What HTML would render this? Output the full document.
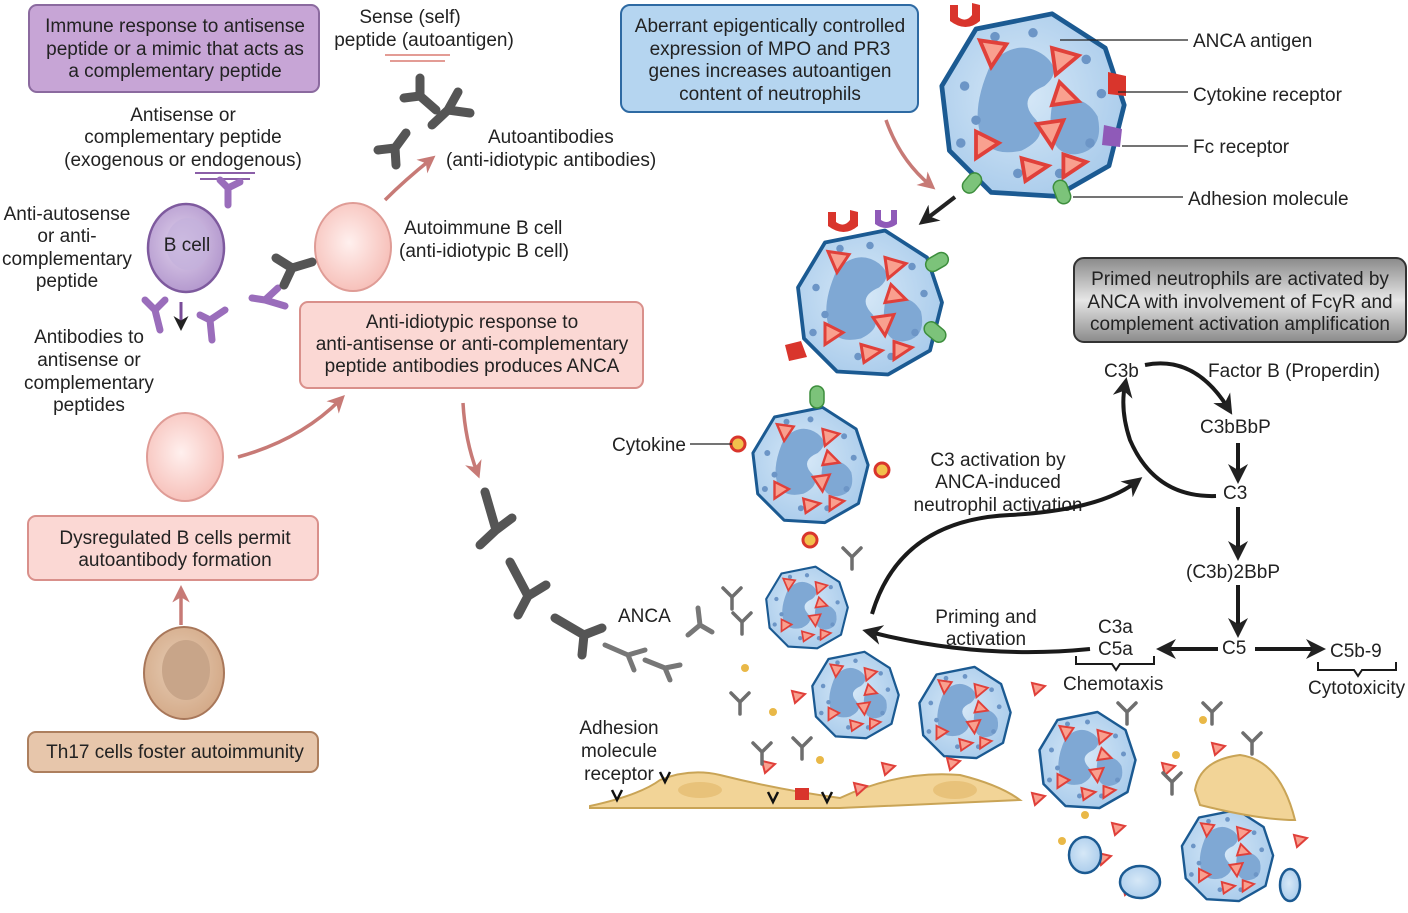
<!DOCTYPE html>
<html><head><meta charset="utf-8"><style>
html,body{margin:0;padding:0;background:#fff}
svg text{font-family:"Liberation Sans",sans-serif;font-size:19px;fill:#222}
</style></head><body>
<svg width="1408" height="908" viewBox="0 0 1408 908" xmlns="http://www.w3.org/2000/svg">
<defs>
<radialGradient id="ng" cx="0.45" cy="0.45" r="0.6"><stop offset="0" stop-color="#d6e8f7"/><stop offset="1" stop-color="#a9cbeb"/></radialGradient>
<linearGradient id="gg" x1="0" y1="0" x2="0" y2="1"><stop offset="0" stop-color="#8a8a8a"/><stop offset="0.5" stop-color="#e6e6e6"/><stop offset="1" stop-color="#8a8a8a"/></linearGradient>
<radialGradient id="pk" cx="0.45" cy="0.45" r="0.6"><stop offset="0" stop-color="#fff0ee"/><stop offset="1" stop-color="#f6bdb6"/></radialGradient>
<radialGradient id="pu" cx="0.45" cy="0.45" r="0.6"><stop offset="0" stop-color="#e0d2ec"/><stop offset="1" stop-color="#b195cc"/></radialGradient>
<radialGradient id="tn" cx="0.45" cy="0.45" r="0.6"><stop offset="0" stop-color="#e6cdb5"/><stop offset="1" stop-color="#d3a886"/></radialGradient>
<symbol id="neu" viewBox="-50 -50 100 100" overflow="visible">
<path d="M-30,-40 L10,-48 L38,-30 L48,0 L40,32 L12,48 L-22,46 L-44,24 L-48,-10 Z" fill="url(#ng)" stroke="#1b5a92" stroke-width="2.5" stroke-linejoin="round"/>
<path d="M-22,-22 q14,-14 28,-4 q10,8 0,16 q-14,6 -6,16 q10,10 -6,18 q-18,4 -22,-10 q-4,-14 6,-36 z" fill="#7fa8d4"/>
<path d="M10,0 q16,-8 24,6 q4,18 -12,20 q-16,0 -12,-26 z" fill="#7fa8d4"/>
<g fill="#6c95c6"><circle cx="-36" cy="-10" r="2.5"/><circle cx="-30" cy="8" r="2.5"/><circle cx="28" cy="-24" r="2.5"/><circle cx="36" cy="-6" r="2.5"/><circle cx="-8" cy="36" r="2.5"/><circle cx="14" cy="36" r="2.5"/><circle cx="-20" cy="-36" r="2.5"/><circle cx="0" cy="-38" r="2.5"/><circle cx="-38" cy="20" r="2.5"/><circle cx="30" cy="20" r="2.5"/></g>
<g fill="#f9a08f" stroke="#e0403a" stroke-width="2"><path d="M-28,-34 l14,2 l-8,12 z"/><path d="M10,-30 l14,4 l-12,10 z"/><path d="M-30,14 l12,6 l-12,8 z"/><path d="M2,10 l14,-2 l-6,14 z"/><path d="M14,-12 l10,10 l-14,2 z"/><path d="M-6,28 l14,4 l-12,8 z"/><path d="M28,30 l-12,8 l0,-12 z"/></g>
</symbol>
<symbol id="ab" viewBox="-12 -12 24 24" overflow="visible">
<path d="M0,12 L0,0 M0,0 L-9,-9 M0,0 L9,-9" stroke="#6e6e6e" stroke-width="3.5" fill="none" stroke-linecap="round"/>
</symbol>
<symbol id="tri" viewBox="-8 -8 16 16" overflow="visible"><path d="M-6,-5 L7,-2 L-3,7 Z" fill="#f9a08f" stroke="#e0403a" stroke-width="2"/></symbol>
<marker id="ar" viewBox="0 0 10 10" refX="6" refY="5" markerWidth="5" markerHeight="5" orient="auto"><path d="M0,0 L10,5 L0,10 L3,5 z" fill="#222"/></marker>
<marker id="arp" viewBox="0 0 10 10" refX="6" refY="5" markerWidth="5" markerHeight="5" orient="auto"><path d="M0,0 L10,5 L0,10 L3,5 z" fill="#c77a76"/></marker>
</defs>

<!-- boxes -->
<rect x="29" y="5" width="290" height="87" rx="8" fill="#c7a5d6" stroke="#8b6a9f" stroke-width="2"/>
<text text-anchor="middle" x="175" y="32">Immune response to antisense</text>
<text text-anchor="middle" x="175" y="55">peptide or a mimic that acts as</text>
<text text-anchor="middle" x="175" y="77">a complementary peptide</text>

<rect x="621" y="5" width="297" height="107" rx="9" fill="#b5d5f0" stroke="#2e6aa3" stroke-width="2"/>
<text text-anchor="middle" x="770" y="32">Aberrant epigentically controlled</text>
<text text-anchor="middle" x="770" y="55">expression of MPO and PR3</text>
<text text-anchor="middle" x="770" y="77">genes increases autoantigen</text>
<text text-anchor="middle" x="770" y="100">content of neutrophils</text>

<rect x="300" y="302" width="343" height="86" rx="8" fill="#fbd8d4" stroke="#d9908b" stroke-width="2"/>
<text text-anchor="middle" x="472" y="328">Anti-idiotypic response to</text>
<text text-anchor="middle" x="472" y="350">anti-antisense or anti-complementary</text>
<text text-anchor="middle" x="472" y="372">peptide antibodies produces ANCA</text>

<rect x="28" y="516" width="290" height="64" rx="8" fill="#fbd8d4" stroke="#d9908b" stroke-width="2"/>
<text text-anchor="middle" x="175" y="544">Dysregulated B cells permit</text>
<text text-anchor="middle" x="175" y="566">autoantibody formation</text>

<rect x="28" y="732" width="290" height="40" rx="8" fill="#e7c6ab" stroke="#ad7f5e" stroke-width="2"/>
<text text-anchor="middle" x="175" y="758">Th17 cells foster autoimmunity</text>

<rect x="1074" y="258" width="332" height="84" rx="10" fill="url(#gg)" stroke="#333" stroke-width="2"/>
<text text-anchor="middle" x="1240" y="285">Primed neutrophils are activated by</text>
<text text-anchor="middle" x="1240" y="308">ANCA with involvement of FcγR and</text>
<text text-anchor="middle" x="1240" y="330">complement activation amplification</text>

<!-- left text -->
<text text-anchor="middle" x="410" y="23">Sense (self)</text>
<text text-anchor="middle" x="424" y="46">peptide (autoantigen)</text>
<line x1="385" y1="55" x2="450" y2="55" stroke="#e39c95" stroke-width="2"/><line x1="390" y1="61" x2="445" y2="61" stroke="#e39c95" stroke-width="2"/>
<text text-anchor="middle" x="183" y="121">Antisense or</text>
<text text-anchor="middle" x="183" y="143">complementary peptide</text>
<text text-anchor="middle" x="183" y="166">(exogenous or endogenous)</text>
<line x1="195" y1="173" x2="255" y2="173" stroke="#8b5fa8" stroke-width="2"/><line x1="200" y1="179" x2="250" y2="179" stroke="#8b5fa8" stroke-width="2"/>
<text text-anchor="middle" x="67" y="220">Anti-autosense</text>
<text text-anchor="middle" x="67" y="242">or anti-</text>
<text text-anchor="middle" x="67" y="265">complementary</text>
<text text-anchor="middle" x="67" y="287">peptide</text>
<text text-anchor="middle" x="89" y="343">Antibodies to</text>
<text text-anchor="middle" x="89" y="366">antisense or</text>
<text text-anchor="middle" x="89" y="389">complementary</text>
<text text-anchor="middle" x="89" y="411">peptides</text>
<text x="488" y="143">Autoantibodies</text>
<text x="446" y="166">(anti-idiotypic antibodies)</text>
<text x="404" y="234">Autoimmune B cell</text>
<text x="399" y="257">(anti-idiotypic B cell)</text>

<!-- B cells -->
<ellipse cx="186" cy="248" rx="38" ry="44" fill="url(#pu)" stroke="#7e5a9e" stroke-width="2.5"/>
<ellipse cx="188" cy="244" rx="22" ry="26" fill="#c3b0dc" opacity="0.7"/>
<text text-anchor="middle" x="187" y="251">B cell</text>
<ellipse cx="353" cy="247" rx="38" ry="44" fill="url(#pk)" stroke="#df9c96" stroke-width="2"/>
<ellipse cx="185" cy="457" rx="38" ry="44" fill="url(#pk)" stroke="#df9c96" stroke-width="2"/>
<ellipse cx="184" cy="673" rx="40" ry="46" fill="url(#tn)" stroke="#a8775a" stroke-width="2"/>
<ellipse cx="186" cy="670" rx="24" ry="30" fill="#c8a589"/>

<!-- purple antibodies -->
<g stroke="#9a6dbb" stroke-width="7" stroke-linecap="round" fill="none">
<path d="M228,205 L228,188 M228,188 L220,180 M228,188 L240,182"/>
<path d="M155,310 L145,300 M155,310 L165,300 M155,310 L160,330"/>
<path d="M225,310 L210,320 M210,320 L200,315 M210,320 L212,340"/>
<path d="M265,300 L278,288 M265,300 L252,298 M265,300 L285,306"/>
</g>
<line x1="181" y1="302" x2="181" y2="325" stroke="#7a4c99" stroke-width="3" marker-end="url(#ar)"/>
<!-- gray antibodies left -->
<g stroke="#555" stroke-width="9" stroke-linecap="round" fill="none">
<path d="M432,125 L448,110 M448,110 L458,92 M448,110 L470,113"/>
<path d="M406,133 L395,148 M395,148 L378,150 M395,148 L396,165"/>
<path d="M436,110 L420,96 M420,96 L404,98 M420,96 L420,78"/>
<path d="M312,262 L292,268 M292,268 L276,258 M292,268 L284,285"/>
<path d="M485,492 L496,530 M496,530 L480,545 M496,530 L512,518"/>
<path d="M510,562 L528,596 M528,596 L518,615 M528,596 L546,585"/>
<path d="M555,618 L584,635 M584,635 L582,655 M584,635 L602,628"/>
</g>
<g stroke="#777" stroke-width="5" stroke-linecap="round" fill="none">
<path d="M605,645 L628,655 M628,655 L634,670 M628,655 L645,650"/>
<path d="M645,660 L665,668 M665,668 L670,680 M665,668 L680,665"/>
<path d="M688,635 L700,625 M700,625 L698,608 M700,625 L712,632"/>
</g>
<text x="618" y="622">ANCA</text>

<!-- pink arrows -->
<g stroke="#c77a76" stroke-width="3.5" fill="none" marker-end="url(#arp)">
<path d="M385,200 Q405,180 430,160"/>
<path d="M238,457 Q300,440 340,400"/>
<path d="M181,625 L181,592"/>
<path d="M463,403 Q465,440 477,472"/>
<path d="M886,120 Q900,160 930,185"/>
</g>
<path d="M955,197 L925,220" stroke="#222" stroke-width="4" marker-end="url(#ar)"/>

<!-- neutrophils -->
<use href="#neu" x="938" y="10" width="190" height="190"/>
<use href="#neu" x="795" y="225" width="150" height="155"/>
<use href="#neu" x="748" y="405" width="125" height="120"/>
<use href="#neu" x="763" y="565" width="88" height="85"/>
<use href="#neu" x="808" y="650" width="95" height="90"/>
<use href="#neu" x="915" y="665" width="100" height="95"/>
<use href="#neu" x="1025" y="710" width="125" height="100"/>
<use href="#neu" x="1155" y="808" width="145" height="95"/>
<!-- receptors on big neutrophils -->
<g fill="#d9352c"><path d="M950,5 l8,0 l0,12 q8,6 14,-2 l0,-12 l8,2 l0,16 q-14,12 -30,0z"/><path d="M1108,72 l18,4 l0,20 l-18,-2z"/><path d="M828,212 l8,0 l0,10 q8,6 14,-2 l0,-10 l8,2 l0,14 q-14,12 -30,0z"/><path d="M785,345 l16,-4 l6,16 l-18,4z"/></g>
<g fill="#8f5ab8"><path d="M1104,125 l18,4 l-2,18 l-18,-2z"/><path d="M875,210 l6,0 l0,10 q6,4 10,0 l0,-10 l6,0 l0,14 q-11,8 -22,0z"/></g>
<g fill="#7cc37a" stroke="#3d8e3d" stroke-width="1.5"><rect x="965" y="172" width="14" height="22" rx="7" transform="rotate(40 972 183)"/><rect x="1055" y="180" width="14" height="24" rx="7" transform="rotate(-20 1062 192)"/><rect x="930" y="250" width="14" height="24" rx="7" transform="rotate(60 937 262)"/><rect x="928" y="320" width="14" height="24" rx="7" transform="rotate(-50 935 332)"/><rect x="810" y="386" width="14" height="22" rx="7"/></g>
<circle cx="738" cy="444" r="7" fill="#f2c04c" stroke="#d9352c" stroke-width="3"/>
<circle cx="810" cy="540" r="7" fill="#f2c04c" stroke="#d9352c" stroke-width="3"/>
<circle cx="882" cy="470" r="7" fill="#f2c04c" stroke="#d9352c" stroke-width="3"/>

<!-- endothelium -->
<path d="M590,806 Q640,795 660,780 Q690,768 720,775 Q780,790 840,798 Q900,770 960,775 Q1000,785 1020,800 L840,808 L590,808 Z" fill="#f2d497" stroke="#c9a456" stroke-width="2"/>
<path d="M1195,790 Q1200,760 1240,755 Q1280,760 1295,820 Q1260,820 1200,805 Z" fill="#f2d497" stroke="#c9a456" stroke-width="2"/>
<ellipse cx="700" cy="790" rx="22" ry="8" fill="#e8c27a"/><ellipse cx="955" cy="790" rx="22" ry="9" fill="#e8c27a"/>
<g stroke="#111" stroke-width="2.5" fill="none"><path d="M612,790 l5,10 l5,-10"/><path d="M660,772 l5,10 l5,-10"/><path d="M768,792 l5,10 l5,-10"/><path d="M822,792 l5,10 l5,-10"/></g>
<rect x="795" y="788" width="14" height="12" fill="#d9352c"/>
<text text-anchor="middle" x="619" y="734">Adhesion</text>
<text text-anchor="middle" x="619" y="757">molecule</text>
<text text-anchor="middle" x="619" y="780">receptor</text>

<!-- scattered stuff -->
<g>
<use href="#tri" x="790" y="688" width="16" height="16"/><use href="#tri" x="852" y="780" width="16" height="16"/><use href="#tri" x="880" y="760" width="16" height="16"/><use href="#tri" x="1030" y="790" width="16" height="16"/><use href="#tri" x="1110" y="820" width="16" height="16"/><use href="#tri" x="1160" y="760" width="16" height="16"/><use href="#tri" x="1210" y="740" width="16" height="16"/><use href="#tri" x="1096" y="850" width="16" height="16"/><use href="#tri" x="1120" y="880" width="16" height="16"/><use href="#tri" x="1292" y="832" width="16" height="16"/><use href="#tri" x="1030" y="680" width="16" height="16"/><use href="#tri" x="760" y="758" width="16" height="16"/><use href="#tri" x="945" y="755" width="16" height="16"/>
</g>
<g fill="#e9b847"><circle cx="773" cy="712" r="4"/><circle cx="820" cy="760" r="4"/><circle cx="1085" cy="815" r="4"/><circle cx="1062" cy="841" r="4"/><circle cx="1203" cy="720" r="4"/><circle cx="1176" cy="755" r="4"/><circle cx="745" cy="668" r="4"/></g>
<use href="#ab" x="720" y="585" width="24" height="24"/><use href="#ab" x="730" y="610" width="24" height="24"/><use href="#ab" x="728" y="690" width="24" height="24"/><use href="#ab" x="750" y="740" width="24" height="24"/><use href="#ab" x="790" y="735" width="24" height="24"/><use href="#ab" x="840" y="545" width="24" height="24"/><use href="#ab" x="1115" y="700" width="24" height="24"/><use href="#ab" x="1200" y="700" width="24" height="24"/><use href="#ab" x="1240" y="730" width="24" height="24"/><use href="#ab" x="1160" y="770" width="24" height="24"/>
<g fill="url(#ng)" stroke="#1b5a92" stroke-width="2.5"><ellipse cx="1085" cy="855" rx="16" ry="18"/><ellipse cx="1140" cy="882" rx="20" ry="16"/><ellipse cx="1290" cy="885" rx="10" ry="16"/></g>

<!-- right labels -->
<g stroke="#222" stroke-width="1.2"><line x1="1060" y1="40" x2="1188" y2="40"/><line x1="1118" y1="92" x2="1188" y2="92"/><line x1="1122" y1="146" x2="1188" y2="146"/><line x1="1073" y1="197" x2="1183" y2="197"/><line x1="690" y1="444" x2="732" y2="444"/></g>
<text x="1193" y="47">ANCA antigen</text>
<text x="1193" y="101">Cytokine receptor</text>
<text x="1193" y="153">Fc receptor</text>
<text x="1188" y="205">Adhesion molecule</text>
<text x="612" y="451">Cytokine</text>

<text text-anchor="middle" x="998" y="466">C3 activation by</text>
<text text-anchor="middle" x="998" y="488">ANCA-induced</text>
<text text-anchor="middle" x="998" y="511">neutrophil activation</text>
<text text-anchor="middle" x="986" y="623">Priming and</text>
<text text-anchor="middle" x="986" y="645">activation</text>

<!-- complement cascade -->
<text x="1104" y="377">C3b</text>
<text x="1208" y="377">Factor B (Properdin)</text>
<text x="1200" y="433">C3bBbP</text>
<text x="1223" y="499">C3</text>
<text x="1186" y="578">(C3b)2BbP</text>
<text x="1222" y="654">C5</text>
<text x="1098" y="633">C3a</text>
<text x="1098" y="655">C5a</text>
<text x="1330" y="657">C5b-9</text>
<text x="1063" y="690">Chemotaxis</text>
<text x="1308" y="694">Cytotoxicity</text>
<g stroke="#1a1a1a" stroke-width="4" fill="none">
<path d="M1145,365 Q1195,355 1228,408" marker-end="url(#ar)"/>
<path d="M1216,496 Q1155,498 1130,440 Q1120,410 1125,385" marker-end="url(#ar)"/>
<path d="M1238,443 L1238,476" marker-end="url(#ar)"/>
<path d="M1238,507 L1238,553" marker-end="url(#ar)"/>
<path d="M1238,585 L1238,630" marker-end="url(#ar)"/>
<path d="M1218,649 L1164,649" marker-end="url(#ar)"/>
<path d="M1255,649 L1318,649" marker-end="url(#ar)"/>
<path d="M1090,649 Q980,660 870,632" marker-end="url(#ar)"/>
<path d="M872,614 Q900,520 1010,515 Q1100,510 1136,482" marker-end="url(#ar)"/>
</g>
<g stroke="#1a1a1a" stroke-width="2" fill="none"><path d="M1076,656 v8 h36 l4,6 l4,-6 h34 v-8"/><path d="M1318,662 v8 h36 l4,6 l4,-6 h34 v-8"/></g>
</svg>
</body></html>
